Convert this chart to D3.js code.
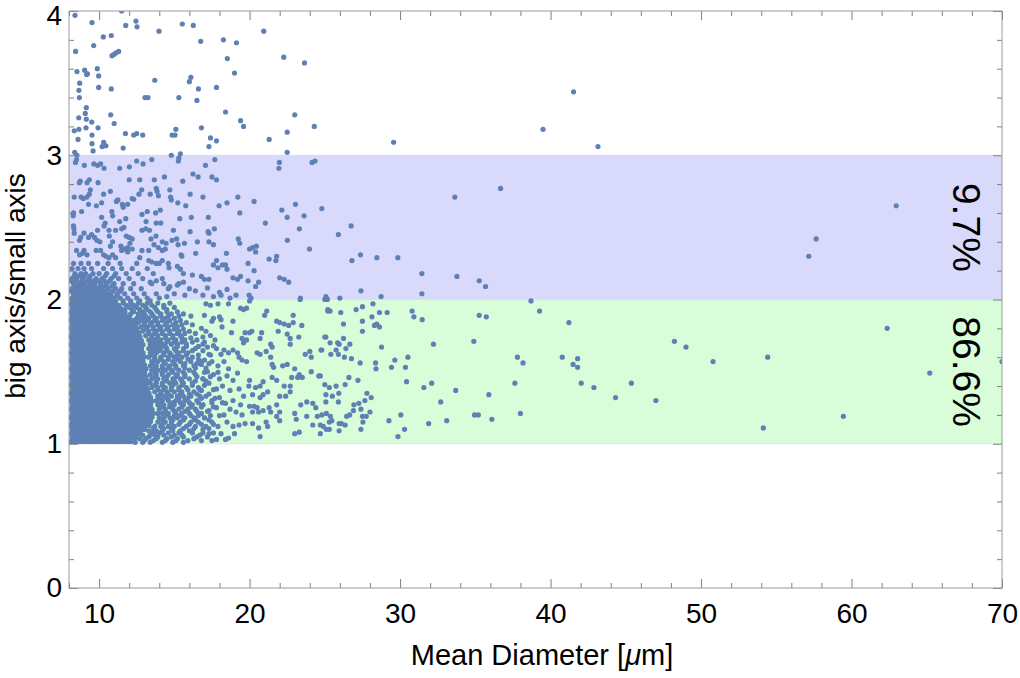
<!DOCTYPE html>
<html><head><meta charset="utf-8">
<script src="https://cdn.jsdelivr.net/npm/d3@7"></script>
<style>body{margin:0;background:#fff}svg{display:block}text{font-family:"Liberation Sans",Arial,sans-serif}</style>
</head><body>
<svg id="c" width="1020" height="678"></svg>
<script>
// ---------------- data ----------------
const xTickLabels = [10,20,30,40,50,60,70];
const yTickLabels = [0,1,2,3,4];
const bands = [ {lo:2, hi:3, label:"9.7%", color:"#d9d9fc"}, {lo:1, hi:2, label:"86.6%", color:"#d9fcd9"} ];

// dense (solid-looking) core of the cloud, one string per row: "ratio|diameters..."
const coreRows = [
"1.015|8.12 8.32 8.52 8.72 8.92 9.12 9.32 9.52 9.72 9.92 10.12 10.32 10.52 10.72 10.92 11.12 11.32 11.52 11.72 11.92 12.12",
"1.043|8.22 8.42 8.62 8.82 9.02 9.22 9.42 9.62 9.82 10.02 10.22 10.42 10.62 10.82 11.02 11.22 11.42 11.62 11.82 12.02 12.22 12.42",
"1.071|8.12 8.32 8.52 8.72 8.92 9.12 9.32 9.52 9.72 9.92 10.12 10.32 10.52 10.72 10.92 11.12 11.32 11.52 11.72 11.92 12.12 12.32 12.52 12.72",
"1.099|8.22 8.42 8.62 8.82 9.02 9.22 9.42 9.62 9.82 10.02 10.22 10.42 10.62 10.82 11.02 11.22 11.42 11.62 11.82 12.02 12.22 12.42 12.62 12.82 13.02",
"1.127|8.12 8.32 8.52 8.72 8.92 9.12 9.32 9.52 9.72 9.92 10.12 10.32 10.52 10.72 10.92 11.12 11.32 11.52 11.72 11.92 12.12 12.32 12.52 12.72 12.92 13.12 13.32",
"1.155|8.22 8.42 8.62 8.82 9.02 9.22 9.42 9.62 9.82 10.02 10.22 10.42 10.62 10.82 11.02 11.22 11.42 11.62 11.82 12.02 12.22 12.42 12.62 12.82 13.02 13.22 13.42",
"1.183|8.12 8.32 8.52 8.72 8.92 9.12 9.32 9.52 9.72 9.92 10.12 10.32 10.52 10.72 10.92 11.12 11.32 11.52 11.72 11.92 12.12 12.32 12.52 12.72 12.92 13.12 13.32 13.52",
"1.211|8.22 8.42 8.62 8.82 9.02 9.22 9.42 9.62 9.82 10.02 10.22 10.42 10.62 10.82 11.02 11.22 11.42 11.62 11.82 12.02 12.22 12.42 12.62 12.82 13.02 13.22 13.42 13.62",
"1.239|8.12 8.32 8.52 8.72 8.92 9.12 9.32 9.52 9.72 9.92 10.12 10.32 10.52 10.72 10.92 11.12 11.32 11.52 11.72 11.92 12.12 12.32 12.52 12.72 12.92 13.12 13.32 13.52",
"1.267|8.22 8.42 8.62 8.82 9.02 9.22 9.42 9.62 9.82 10.02 10.22 10.42 10.62 10.82 11.02 11.22 11.42 11.62 11.82 12.02 12.22 12.42 12.62 12.82 13.02 13.22 13.42",
"1.295|8.12 8.32 8.52 8.72 8.92 9.12 9.32 9.52 9.72 9.92 10.12 10.32 10.52 10.72 10.92 11.12 11.32 11.52 11.72 11.92 12.12 12.32 12.52 12.72 12.92 13.12 13.32 13.52",
"1.323|8.22 8.42 8.62 8.82 9.02 9.22 9.42 9.62 9.82 10.02 10.22 10.42 10.62 10.82 11.02 11.22 11.42 11.62 11.82 12.02 12.22 12.42 12.62 12.82 13.02 13.22 13.42",
"1.351|8.12 8.32 8.52 8.72 8.92 9.12 9.32 9.52 9.72 9.92 10.12 10.32 10.52 10.72 10.92 11.12 11.32 11.52 11.72 11.92 12.12 12.32 12.52 12.72 12.92 13.12 13.32",
"1.379|8.22 8.42 8.62 8.82 9.02 9.22 9.42 9.62 9.82 10.02 10.22 10.42 10.62 10.82 11.02 11.22 11.42 11.62 11.82 12.02 12.22 12.42 12.62 12.82 13.02 13.22",
"1.407|8.12 8.32 8.52 8.72 8.92 9.12 9.32 9.52 9.72 9.92 10.12 10.32 10.52 10.72 10.92 11.12 11.32 11.52 11.72 11.92 12.12 12.32 12.52 12.72 12.92 13.12",
"1.435|8.22 8.42 8.62 8.82 9.02 9.22 9.42 9.62 9.82 10.02 10.22 10.42 10.62 10.82 11.02 11.22 11.42 11.62 11.82 12.02 12.22 12.42 12.62 12.82 13.02 13.22",
"1.463|8.12 8.32 8.52 8.72 8.92 9.12 9.32 9.52 9.72 9.92 10.12 10.32 10.52 10.72 10.92 11.12 11.32 11.52 11.72 11.92 12.12 12.32 12.52 12.72 12.92 13.12",
"1.491|8.22 8.42 8.62 8.82 9.02 9.22 9.42 9.62 9.82 10.02 10.22 10.42 10.62 10.82 11.02 11.22 11.42 11.62 11.82 12.02 12.22 12.42 12.62 12.82 13.02",
"1.519|8.12 8.32 8.52 8.72 8.92 9.12 9.32 9.52 9.72 9.92 10.12 10.32 10.52 10.72 10.92 11.12 11.32 11.52 11.72 11.92 12.12 12.32 12.52 12.72 12.92 13.12",
"1.547|8.22 8.42 8.62 8.82 9.02 9.22 9.42 9.62 9.82 10.02 10.22 10.42 10.62 10.82 11.02 11.22 11.42 11.62 11.82 12.02 12.22 12.42 12.62 12.82 13.02",
"1.575|8.12 8.32 8.52 8.72 8.92 9.12 9.32 9.52 9.72 9.92 10.12 10.32 10.52 10.72 10.92 11.12 11.32 11.52 11.72 11.92 12.12 12.32 12.52 12.72 12.92",
"1.603|8.22 8.42 8.62 8.82 9.02 9.22 9.42 9.62 9.82 10.02 10.22 10.42 10.62 10.82 11.02 11.22 11.42 11.62 11.82 12.02 12.22 12.42 12.62 12.82 13.02",
"1.631|8.12 8.32 8.52 8.72 8.92 9.12 9.32 9.52 9.72 9.92 10.12 10.32 10.52 10.72 10.92 11.12 11.32 11.52 11.72 11.92 12.12 12.32 12.52 12.72 12.92",
"1.659|8.22 8.42 8.62 8.82 9.02 9.22 9.42 9.62 9.82 10.02 10.22 10.42 10.62 10.82 11.02 11.22 11.42 11.62 11.82 12.02 12.22 12.42 12.62 12.82",
"1.687|8.12 8.32 8.52 8.72 8.92 9.12 9.32 9.52 9.72 9.92 10.12 10.32 10.52 10.72 10.92 11.12 11.32 11.52 11.72 11.92 12.12 12.32 12.52 12.72 12.92",
"1.715|8.22 8.42 8.62 8.82 9.02 9.22 9.42 9.62 9.82 10.02 10.22 10.42 10.62 10.82 11.02 11.22 11.42 11.62 11.82 12.02 12.22 12.42 12.62 12.82",
"1.743|8.12 8.32 8.52 8.72 8.92 9.12 9.32 9.52 9.72 9.92 10.12 10.32 10.52 10.72 10.92 11.12 11.32 11.52 11.72 11.92 12.12 12.32 12.52 12.72",
"1.771|8.22 8.42 8.62 8.82 9.02 9.22 9.42 9.62 9.82 10.02 10.22 10.42 10.62 10.82 11.02 11.22 11.42 11.62 11.82 12.02 12.22 12.42 12.62",
"1.799|8.12 8.32 8.52 8.72 8.92 9.12 9.32 9.52 9.72 9.92 10.12 10.32 10.52 10.72 10.92 11.12 11.32 11.52 11.72 11.92 12.12 12.32 12.52",
"1.827|8.22 8.42 8.62 8.82 9.02 9.22 9.42 9.62 9.82 10.02 10.22 10.42 10.62 10.82 11.02 11.22 11.42 11.62 11.82 12.02 12.22 12.42",
"1.855|8.12 8.32 8.52 8.72 8.92 9.12 9.32 9.52 9.72 9.92 10.12 10.32 10.52 10.72 10.92 11.12 11.32 11.52 11.72 11.92 12.12 12.32",
"1.883|8.22 8.42 8.62 8.82 9.02 9.22 9.42 9.62 9.82 10.02 10.22 10.42 10.62 10.82 11.02 11.22 11.42 11.62 11.82 12.02",
"1.911|8.12 8.32 8.52 8.72 8.92 9.12 9.32 9.52 9.72 9.92 10.12 10.32 10.52 10.72 10.92 11.12 11.32 11.52 11.72",
"1.939|8.22 8.42 8.62 8.82 9.02 9.22 9.42 9.62 9.82 10.02 10.22 10.42 10.62 10.82 11.02 11.22 11.42",
"1.967|8.12 8.32 8.52 8.72 8.92 9.12 9.32 9.52 9.72 9.92 10.12 10.32 10.52 10.72 10.92 11.12",
"1.995|8.22 8.42 8.62 8.82 9.02 9.22 9.42 9.62 9.82 10.02 10.22 10.42 10.62 10.82",
"2.01|8.2 8.5 8.8 9.1 9.4 9.7 10.0 10.3 10.6 11.0 11.4 11.9 12.5 13.2 14.0",
"2.027|8.35 8.65 8.95 9.25 9.55 9.85 10.15 10.5 10.8 11.2",
"2.04|8.3 8.6 8.9 9.3 9.6 9.9 10.3 10.7 11.2 11.7 12.3 13.0 13.8 15.0",
"2.058|8.15 8.45 8.75 9.1 9.4 9.75 10.1 10.45 10.9 11.4",
"2.075|8.2 8.5 8.9 9.2 9.5 9.9 10.2 10.6 11.1 11.5 12.1 12.8 14.6 16.0",
"2.093|8.4 8.7 9.05 9.35 9.7 10.05 10.4 10.85",
"2.11|8.3 8.7 9.0 9.4 9.7 10.1 10.5 11.0 11.6 12.3 13.5 15.3",
"2.128|8.15 8.5 8.85 9.2 9.55 9.95 10.35 10.7",
"2.145|8.2 8.5 8.9 9.3 9.8 10.2 10.8 11.3 12.0 12.9 14.2",
"2.163|8.35 8.7 9.0 9.4 10.4 11.0",
"2.18|8.4 8.8 9.1 9.6 10.0 10.5 11.1 11.8 12.6 13.6 15.6",
"2.215|8.2 8.6 9.0 9.5 10.3 10.9 11.5 12.2 13.2",
"2.25|8.3 8.8 9.3 9.9 10.6 11.4 12.5 14.0"
];

// ragged halo around the core, rows "ratio|diameters..."
const haloRows = [
"1.01|12.4 12.9 13.4 14.2 14.9 15.6",
"1.022|13.0 13.6 14.4 15.1 15.9 16.8 17.5",
"1.035|12.7 13.1 13.8 14.5 15.2 16.3",
"1.047|13.3 13.9 14.8 15.6 16.5 17.2",
"1.06|12.9 13.4 13.7 14.3 15.0 15.5 16.7",
"1.075|13.6 14.0 14.6 15.3 16.2 16.9 17.6",
"1.09|13.3 13.8 14.2 14.9 15.4 16.0",
"1.105|13.6 14.3 14.8 15.6 16.3 17.3",
"1.12|13.7 14.1 14.6 15.0 15.8 16.4 17.1",
"1.135|14.2 14.8 15.3 16.0 16.8 17.6",
"1.15|13.9 14.4 14.8 15.4 16.1 16.6",
"1.165|14.2 14.9 15.6 16.4 17.3",
"1.18|14.0 14.3 14.7 15.2 15.7 16.3 17.0",
"1.195|14.4 15.0 15.4 16.1 16.6 17.4 18.0",
"1.21|13.9 14.2 14.6 15.1 15.5 16.0 16.8",
"1.225|14.4 15.0 15.7 16.5 17.2",
"1.24|14.0 14.4 14.9 15.3 15.9 16.4",
"1.255|14.2 14.7 15.5 16.1 16.8 17.6",
"1.27|13.9 14.3 14.7 15.0 15.6 16.2 16.9",
"1.285|14.1 14.9 15.4 16.0 16.6 17.5 18.2",
"1.30|13.8 14.2 14.6 15.1 15.7 16.5",
"1.315|14.0 14.5 15.3 15.9 16.8 17.7",
"1.33|13.9 14.3 14.8 15.2 15.6 16.1 16.7",
"1.345|14.1 14.6 15.4 16.0 16.5 17.3",
"1.36|13.7 14.1 14.5 15.0 15.5 16.3",
"1.375|13.9 14.3 14.8 15.3 15.9 16.7 17.6",
"1.39|13.5 13.9 14.4 14.8 15.3 15.8 16.6",
"1.405|13.7 14.2 14.9 15.5 16.2 17.0",
"1.42|13.4 13.8 14.2 14.7 15.1 15.6 16.2",
"1.435|13.8 14.5 15.0 15.5 16.4 17.1",
"1.45|13.5 13.9 14.3 14.9 15.4 16.0 16.9",
"1.465|13.7 14.5 15.1 15.7 16.5 17.4",
"1.48|13.4 13.8 14.2 14.6 15.2 15.7 16.4",
"1.495|13.7 14.2 14.9 15.6 16.3 17.0 17.9",
"1.51|13.5 13.9 14.4 14.8 15.3 16.0",
"1.525|13.7 14.2 14.6 15.1 15.7 16.4 17.1",
"1.54|13.4 13.8 14.2 14.7 15.1 15.6 16.3",
"1.555|13.6 14.4 15.0 15.7 16.5 17.3",
"1.57|13.5 13.9 14.3 14.9 15.4 16.1 16.8",
"1.585|13.7 14.1 14.6 15.2 15.9 16.6",
"1.60|13.3 13.7 14.1 14.6 15.0 15.5 16.2",
"1.615|13.5 14.3 14.8 15.2 15.8 16.6 17.4",
"1.63|13.4 13.8 14.3 14.7 15.3 15.9",
"1.645|13.6 14.0 14.5 15.1 15.6 16.2 16.9",
"1.66|13.3 13.7 14.1 14.5 15.0 15.6 16.4",
"1.675|13.5 13.9 14.4 15.2 15.8 16.6",
"1.69|13.4 13.8 14.2 14.8 15.2 15.8",
"1.705|13.6 14.0 14.5 15.0 15.5 16.2 17.0",
"1.72|13.3 13.7 14.1 14.6 15.1 15.7 16.5",
"1.735|13.5 13.9 14.4 14.9 15.5 16.1",
"1.75|13.1 13.5 13.9 14.4 14.9 15.4",
"1.765|13.3 13.7 14.2 14.7 15.2 15.7 16.4",
"1.78|12.9 13.3 13.8 14.2 14.7 15.3 16.0",
"1.795|13.1 13.6 14.0 14.5 15.0 15.6",
"1.81|12.8 13.2 13.6 14.1 14.6 15.2",
"1.825|13.0 13.4 13.9 14.4 14.9 15.5 16.2",
"1.84|12.6 13.0 13.5 13.9 14.5 15.1 15.8",
"1.855|12.8 13.2 13.7 14.2 14.7 15.4",
"1.87|12.5 12.9 13.3 13.8 14.4 15.0",
"1.885|12.7 13.1 13.6 14.1 14.6 15.3 16.1",
"1.90|12.1 12.6 13.0 13.5 14.1 14.8 15.6",
"1.915|12.3 12.9 13.4 13.9 14.5 15.2",
"1.93|11.7 12.2 12.7 13.2 13.8 14.5",
"1.945|12.0 12.5 13.1 13.7 14.3 15.0",
"1.96|11.3 11.8 12.3 12.9 13.5 14.3",
"1.975|11.6 12.1 12.6 13.2 13.9 14.7",
"1.99|11.1 11.6 12.1 12.7 13.4"
];

// individually read points [diameter, ratio] between 1 and 2
const greenPoints = [
[16.9,2.03],[17.6,2.02],[18.1,2.03],[18.7,2.01],[19.97,2.03],[20.0,1.99],[23.36,2.0],[25.17,2.0],
[17.1,1.97],[17.4,1.96],[17.9,1.97],[18.6,1.97],[19.4,1.94],[19.6,1.93],[19.8,1.94],[21.14,1.92],[21.0,1.89],
[21.8,1.85],[22.0,1.84],[22.3,1.83],[22.6,1.82],[22.9,1.84],[22.9,1.89],[23.47,1.82],[25.2,1.92],
[17.6,1.87],[17.5,1.85],[18.0,1.88],[18.1,1.86],[17.0,1.89],[18.9,1.85],[18.8,1.77],[18.17,1.81],
[19.7,1.77],[20.0,1.77],[20.15,1.78],[19.5,1.73],[19.8,1.72],[19.6,1.70],[20.8,1.77],[20.7,1.73],
[21.9,1.78],[22.5,1.76],[22.7,1.73],[23.27,1.74],[21.4,1.69],[21.5,1.67],[22.7,1.69],[25.0,1.74],[24.75,1.65],
[16.9,1.69],[17.2,1.67],[17.6,1.68],[17.8,1.66],[18.1,1.62],[18.3,1.65],[18.6,1.63],[18.9,1.65],[19.2,1.63],
[19.3,1.60],[19.5,1.58],[19.8,1.57],[20.5,1.63],[20.7,1.62],[21.1,1.64],[21.4,1.60],[21.5,1.55],[21.6,1.53],
[22.2,1.54],[22.5,1.55],[23.7,1.62],[24.0,1.64],[24.1,1.60],[24.1,1.50],[24.6,1.47],[23.0,1.52],[23.3,1.48],[23.5,1.46],[23.2,1.46],[22.8,1.46],
[22.3,1.40],[22.7,1.40],[21.5,1.46],[21.8,1.44],[20.9,1.43],[20.7,1.40],[20.4,1.39],[20.0,1.44],[19.95,1.40],[20.2,1.34],
[21.2,1.36],[20.9,1.34],[20.7,1.32],[22.0,1.33],[22.4,1.33],[22.7,1.36],
[23.4,1.27],[23.8,1.29],[24.2,1.28],[24.4,1.25],[24.5,1.19],[23.8,1.19],[23.0,1.21],[23.1,1.17],
[21.8,1.27],[22.0,1.22],[21.8,1.19],[22.0,1.16],[21.3,1.25],[21.4,1.22],[21.1,1.15],[21.2,1.12],
[20.0,1.26],[20.3,1.26],[20.5,1.25],[20.2,1.22],[20.6,1.22],[20.9,1.23],
[19.7,1.14],[20.2,1.14],[20.6,1.11],[20.7,1.05],[23.0,1.07],[23.3,1.08],[24.2,1.13],[24.7,1.07],[24.9,1.12],[25.3,1.10],[25.3,1.15],[25.1,1.21],
[18.3,1.20],[18.5,1.15],[18.9,1.12],[19.3,1.13],[19.0,1.07],[18.6,1.04],[18.1,1.07],[18.4,1.03],
[16.8,1.80],[17.1,1.78],[17.4,1.75],[16.9,1.74],[17.7,1.72],[17.3,1.62],[17.0,1.58],[16.8,1.55],[17.5,1.57],[17.9,1.54],
[18.3,1.57],[18.6,1.52],[17.2,1.50],[17.6,1.48],[18.0,1.45],[18.5,1.47],[18.9,1.44],[19.2,1.49],[16.9,1.45],[17.3,1.42],
[17.8,1.38],[18.2,1.40],[18.7,1.37],[19.3,1.38],[16.8,1.37],[17.1,1.33],[17.5,1.30],[18.0,1.32],[18.4,1.28],[18.9,1.30],
[19.4,1.27],[16.9,1.27],[17.3,1.23],[17.8,1.25],[17.0,1.18],[17.5,1.15],[17.9,1.12],[16.9,1.10],[17.3,1.07],[17.8,1.03],
[19.5,1.20],[19.1,1.22],[18.7,1.24],[19.6,1.33],
[25.35,1.92],[25.2,1.93],[26.06,1.91],[27.08,1.93],[27.5,1.95],[28.2,1.97],[28.63,1.91],[29.14,1.91],[30.8,1.92],[30.92,1.88],
[31.47,1.86],[35.26,1.89],[35.73,1.88],[39.27,1.92],[41.22,1.84],[27.5,1.85],[28.13,1.88],[28.3,1.82],[28.45,1.83],[28.63,1.81],
[27.5,1.78],[26.24,1.83],[25.07,1.74],[25.35,1.70],[25.85,1.70],[25.95,1.69],[26.24,1.73],[26.66,1.69],[26.4,1.66],[25.75,1.65],
[24.8,1.65],[25.4,1.62],[25.9,1.62],[26.3,1.60],[26.77,1.59],[27.35,1.56],[28.37,1.56],[28.4,1.52],[28.77,1.67],[29.43,1.53],
[29.65,1.58],[30.52,1.60],[30.36,1.53],[32.22,1.69],[34.9,1.71],[37.8,1.60],[38.17,1.56],[40.78,1.60],[41.8,1.59],[41.5,1.55],
[41.8,1.53],[24.7,1.47],[26.6,1.46],[27.2,1.44],[25.0,1.41],[25.3,1.39],[25.75,1.40],[26.35,1.41],[25.93,1.35],[25.07,1.34],
[25.5,1.33],[27.8,1.35],[28.08,1.32],[25.07,1.29],[25.9,1.29],[27.66,1.30],[26.93,1.27],[27.26,1.28],[26.9,1.23],[27.4,1.24],
[28.0,1.22],[30.43,1.43],[31.58,1.39],[32.1,1.42],[33.7,1.37],[32.7,1.29],[35.9,1.34],[37.63,1.42],[42.04,1.42],[42.88,1.39],
[44.32,1.32],[45.37,1.42],[47.0,1.30],[24.8,1.20],[25.37,1.19],[25.47,1.16],[25.95,1.14],[26.1,1.14],[26.35,1.13],[26.45,1.19],
[26.65,1.20],[27.5,1.19],[27.75,1.19],[27.53,1.15],[24.7,1.13],[25.1,1.10],[25.95,1.09],[27.4,1.10],[29.26,1.16],[30.05,1.20],
[30.3,1.10],[29.86,1.05],[31.9,1.14],[33.1,1.16],[34.95,1.20],[35.2,1.20],[36.1,1.17],[38.0,1.21],
[62.37,1.80],[48.23,1.71],[49.0,1.67],[50.8,1.57],[54.43,1.60],[70.0,1.57],[65.2,1.49],[59.46,1.19],[54.14,1.11]
];

// individually read points between 2 and 3
const purplePoints = [
[8.43,2.95],[8.5,2.97],[9.02,2.93],[9.65,2.94],[9.9,2.93],[10.1,2.94],[10.33,2.91],[11.37,2.91],[12.01,2.92],[12.5,2.96],
[12.92,2.94],[13.5,2.97],[15.27,2.96],[15.3,2.98],[17.07,2.93],[17.69,2.97],[21.98,2.95],[21.95,2.91],[24.15,2.95],[24.35,2.96],
[16.24,2.87],[16.58,2.85],[17.5,2.85],[17.8,2.83],[8.69,2.81],[8.75,2.82],[9.2,2.81],[9.35,2.83],[9.93,2.81],[12.0,2.83],
[12.7,2.83],[13.67,2.83],[14.34,2.85],[15.56,2.82],[8.35,2.71],[8.8,2.71],[8.95,2.70],[9.2,2.71],[9.35,2.73],[9.42,2.76],
[10.3,2.73],[10.75,2.75],[9.3,2.66],[9.82,2.65],[10.17,2.67],[11.15,2.68],[11.25,2.69],[11.55,2.66],[11.6,2.64],[11.9,2.66],
[12.2,2.70],[12.3,2.695],[12.65,2.73],[12.83,2.76],[13.4,2.73],[13.8,2.77],[13.85,2.75],[13.94,2.72],[14.7,2.76],[14.75,2.71],
[14.8,2.69],[15.23,2.67],[15.76,2.65],[16.05,2.73],[16.9,2.71],[17.97,2.65],[18.5,2.67],[19.22,2.71],[20.3,2.68],[23.05,2.66],
[22.14,2.62],[22.5,2.57],[23.62,2.58],[24.8,2.63],[8.3,2.60],[8.28,2.58],[8.84,2.61],[10.17,2.57],[10.85,2.61],[10.9,2.58],
[10.4,2.53],[10.33,2.51],[11.37,2.54],[11.77,2.56],[12.85,2.59],[13.2,2.61],[13.12,2.54],[13.76,2.60],[14.07,2.62],[13.8,2.53],
[14.1,2.53],[15.36,2.56],[16.13,2.57],[17.26,2.57],[17.24,2.47],[17.3,2.46],[17.66,2.49],[16.05,2.47],[14.94,2.48],[19.35,2.60],
[21.05,2.53],[23.31,2.49],[23.98,2.35],[22.51,2.41],[19.25,2.42],[19.35,2.39],[20.0,2.35],[20.2,2.36],[20.4,2.33],[20.45,2.37],
[26.75,2.51],[25.9,2.45],[27.37,2.31],[26.8,2.27],[28.46,2.29],[29.85,2.29],[31.45,2.18],[31.45,2.04],[33.64,2.71],[36.68,2.77],
[33.78,2.16],[35.26,2.13],[35.68,2.09],[27.4,2.06],[28.74,2.02],[25.0,2.0],[25.15,2.005],[26.0,2.01],[38.7,1.99],[62.97,2.65],
[57.65,2.42],[57.16,2.30],
[8.33,2.49],[8.35,2.46],[8.3,2.51],[8.78,2.43],[8.7,2.41],[9.0,2.46],[9.3,2.43],[9.5,2.45],[9.7,2.43],[9.85,2.41],
[10.05,2.40],[9.9,2.48],[10.66,2.48],[11.1,2.48],[11.5,2.49],[11.65,2.50],[10.68,2.44],[10.9,2.40],[10.75,2.37],[11.8,2.44],
[12.0,2.43],[12.2,2.42],[12.05,2.39],[11.9,2.36],[11.75,2.35],[11.5,2.34],[11.45,2.37],[12.85,2.48],[13.1,2.49],[13.35,2.48],
[13.45,2.42],[13.65,2.38],[13.78,2.44],[13.94,2.36],[14.2,2.40],[14.45,2.39],[14.85,2.41],[15.15,2.42],[15.25,2.38],[14.4,2.35],
[14.2,2.34],[15.67,2.39],[16.53,2.40],[17.3,2.40],[17.6,2.38],[16.42,2.32],[15.45,2.31],[15.5,2.30],[8.5,2.34],[8.7,2.31],
[8.9,2.32],[9.0,2.34],[9.2,2.31],[9.8,2.34],[10.1,2.34],[10.3,2.31],[10.45,2.30],[10.65,2.29],[10.9,2.31],[11.1,2.29],
[11.65,2.35],[11.9,2.33],[12.2,2.35],[12.85,2.34],[13.3,2.34],[12.7,2.29],[13.3,2.27],[13.5,2.26],[13.8,2.25],[14.2,2.27],
[14.6,2.25],[14.65,2.22],[15.2,2.23],[15.4,2.21],[17.8,2.27],[17.6,2.24],[17.9,2.22],[18.2,2.24],[18.4,2.24],[18.5,2.21],
[18.46,2.32],[19.9,2.25],[20.3,2.20],[21.3,2.28],[21.8,2.30],[21.75,2.27],[22.0,2.15],[22.3,2.14],[22.6,2.12],[20.6,2.12],
[20.4,2.09],[19.9,2.13],[20.1,2.01],[18.9,2.15],[19.2,2.14],[19.4,2.16],[16.2,2.17],[16.8,2.16],[17.0,2.14],[17.3,2.14],
[15.6,2.12],[15.2,2.10],[14.7,2.09],[14.3,2.11],[13.8,2.13],[13.4,2.12],[23.38,2.01],[25.07,2.02],[16.4,2.06],[17.2,2.08],
[18.0,2.05],[18.5,2.07],[19.1,2.03],[15.7,2.03],[14.5,2.02]
];

// individually read points above 3
const upperPoints = [
[8.40,3.97],[9.53,3.92],[11.5,4.0],[11.77,3.90],[12.45,3.93],[12.52,3.89],[13.98,3.86],[15.53,3.91],[16.26,3.90],[20.94,3.86],
[10.28,3.82],[10.81,3.83],[16.75,3.79],[18.26,3.80],[19.13,3.78],[8.44,3.72],[9.64,3.76],[10.86,3.69],[10.99,3.70],[11.13,3.71],
[11.3,3.72],[18.52,3.67],[22.27,3.68],[23.65,3.64],[9.04,3.59],[8.53,3.58],[9.88,3.60],[9.17,3.56],[9.23,3.565],[9.97,3.55],
[8.71,3.50],[8.66,3.45],[8.69,3.40],[9.97,3.47],[10.81,3.46],[13.7,3.52],[16.1,3.54],[16.0,3.51],[16.6,3.46],[17.8,3.47],
[19.0,3.57],[13.05,3.40],[13.25,3.40],[15.3,3.40],[16.5,3.38],[9.15,3.33],[9.08,3.29],[8.65,3.26],[9.15,3.25],[9.51,3.23],
[10.77,3.28],[11.0,3.22],[18.4,3.30],[19.4,3.24],[19.6,3.20],[23.0,3.28],[24.3,3.20],[8.35,3.17],[8.66,3.18],[9.13,3.19],
[9.93,3.19],[15.1,3.18],[16.8,3.19],[8.6,3.11],[9.53,3.14],[9.53,3.08],[10.3,3.09],[10.2,3.06],[10.45,3.065],[9.6,3.03],
[8.38,3.02],[8.53,3.0],[11.75,3.15],[12.3,3.14],[12.5,3.15],[12.9,3.14],[14.85,3.14],[15.05,3.14],[17.4,3.12],[17.8,3.10],
[17.3,3.06],[11.6,3.05],[21.3,3.11],[22.5,3.16],[22.5,3.02],[14.8,3.0],[15.4,3.01],[29.57,3.09],[39.5,3.18],[41.53,3.44],[43.15,3.06]
];

// ---------------- chart ----------------
const svg = d3.select("#c");
const L = 69, R = 1002, T = 11, B = 588;
const x = d3.scaleLinear().domain([8,70]).range([L,R]);
const y = d3.scaleLinear().domain([0,4]).range([B,T]);

function parseRows(rows){
  const out = [];
  rows.forEach(r => { const [yy, xs] = r.split("|"); xs.trim().split(/\s+/).forEach(v => out.push([+v, +yy])); });
  return out;
}
const points = [].concat(parseRows(coreRows), parseRows(haloRows), greenPoints, purplePoints, upperPoints);

svg.append("defs").append("clipPath").attr("id","clip")
  .append("rect").attr("x",L).attr("y",T).attr("width",R-L).attr("height",B-T);

// bands
svg.append("g").selectAll("rect").data(bands).join("rect")
  .attr("x",L).attr("width",R-L)
  .attr("y",d=>y(d.hi)).attr("height",d=>y(d.lo)-y(d.hi))
  .attr("fill",d=>d.color);
svg.append("g").selectAll("line").data([1,2,3]).join("line")
  .attr("x1",L).attr("x2",R).attr("y1",d=>y(d)).attr("y2",d=>y(d))
  .attr("stroke","#c8c8e0").attr("stroke-width",0.6).attr("opacity",0.6);

// points
svg.append("g").attr("clip-path","url(#clip)").selectAll("circle").data(points).join("circle")
  .attr("cx",d=>x(d[0])).attr("cy",d=>y(d[1])).attr("r",2.6).attr("fill","#5e81b5");

// percentage labels
svg.append("g").selectAll("text").data(bands).join("text")
  .attr("transform",d=>`translate(967,${(y(d.lo)+y(d.hi))/2}) rotate(90)`)
  .attr("text-anchor","middle").attr("dy","0.36em")
  .attr("font-size",39).attr("fill","#000").text(d=>d.label);

// axes
const xMinor = d3.range(8,71,2).filter(v=>v%10!==0);
const yMinor = d3.range(0,4.01,0.2).map(v=>+v.toFixed(1)).filter(v=>Math.abs(v-Math.round(v))>0.01);
const tickCol = "#808080";
function styleAxis(g){ g.select(".domain").remove(); g.selectAll("line").attr("stroke",tickCol); g.selectAll("text").attr("font-family","Liberation Sans, Arial, sans-serif").attr("font-size",28).attr("fill","#000"); }

svg.append("g").attr("transform",`translate(0,${B})`).call(d3.axisBottom(x).tickValues(xMinor).tickSize(-5).tickFormat("")).call(styleAxis);
svg.append("g").attr("transform",`translate(0,${B})`).call(d3.axisBottom(x).tickValues(xTickLabels).tickSize(-9).tickPadding(15).tickFormat(d3.format("d"))).call(styleAxis);
svg.append("g").attr("transform",`translate(0,${T})`).call(d3.axisTop(x).tickValues(xMinor).tickSize(-5).tickFormat("")).call(styleAxis);
svg.append("g").attr("transform",`translate(0,${T})`).call(d3.axisTop(x).tickValues(xTickLabels).tickSize(-9).tickFormat("")).call(styleAxis);

svg.append("g").attr("transform",`translate(${L},0)`).call(d3.axisLeft(y).tickValues(yMinor).tickSize(-5).tickFormat("")).call(styleAxis);
const yAx = svg.append("g").attr("transform",`translate(${L},0)`).call(d3.axisLeft(y).tickValues(yTickLabels).tickSize(-9).tickPadding(7).tickFormat(d3.format("d"))).call(styleAxis);
yAx.selectAll(".tick").filter(d=>d===4).select("text").attr("dy","0.48em");
svg.append("g").attr("transform",`translate(${R},0)`).call(d3.axisRight(y).tickValues(yMinor).tickSize(-5).tickFormat("")).call(styleAxis);
svg.append("g").attr("transform",`translate(${R},0)`).call(d3.axisRight(y).tickValues(yTickLabels).tickSize(-9).tickFormat("")).call(styleAxis);

// frame
svg.append("rect").attr("x",L).attr("y",T).attr("width",R-L).attr("height",B-T)
  .attr("fill","none").attr("stroke","#999").attr("stroke-width",1);

// axis titles
const xt = svg.append("text").attr("x",542).attr("y",665).attr("text-anchor","middle").attr("font-size",29).attr("fill","#000");
xt.append("tspan").text("Mean Diameter [");
xt.append("tspan").attr("font-style","italic").text("μ");
xt.append("tspan").text("m]");
svg.append("text").attr("transform","translate(25,286) rotate(-90)").attr("text-anchor","middle")
  .attr("font-size",28).attr("fill","#000").text("big axis/small axis");
</script>
</body></html>
